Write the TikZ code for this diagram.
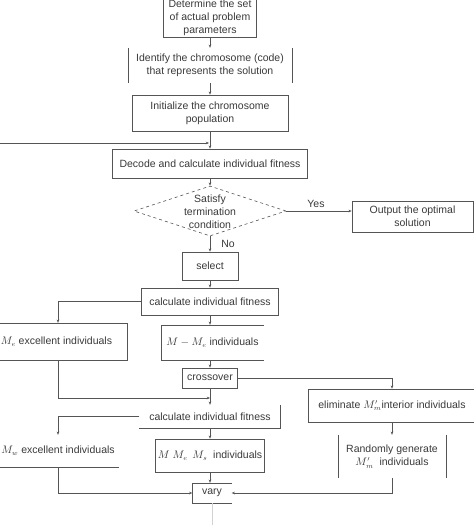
\documentclass[tikz,border=0pt]{standalone}
\usepackage{fontspec}
\setmainfont{Liberation Sans}
\usetikzlibrary{arrows.meta,shapes.geometric,calc}
\definecolor{ln}{HTML}{555555}
\definecolor{tx}{HTML}{3A3A3A}
\begin{document}
\begin{tikzpicture}[x=1pt,y=-1pt,
  txt/.style={text=tx,font=\fontsize{10.5pt}{13pt}\selectfont,align=center,inner sep=0pt},
  bx/.style={txt,minimum width=#1},
  lnst/.style={draw=ln,line width=0.6pt},
  arr/.style={lnst,-{Stealth[length=3.2pt,width=2.6pt]}},
  fullbox/.style={draw=ln,line width=0.6pt}]
\useasboundingbox (0,0) rectangle (474,525);
\clip (0,0) rectangle (474,525);
\fill[white] (0,0) rectangle (474,525);
% main column nodes
\node[bx=93pt,minimum height=43pt] (det) at (210,15.5) {};
\node[txt] (dett) at (210,18) {Determine the set\\of actual problem\\parameters};
\node[bx=164pt,minimum height=35pt] (ident) at (210,65.5) {Identify the chromosome (code)\\that represents the solution};
\node[bx=156pt,minimum height=36pt,fullbox] (init) at (210,113) {Initialize the chromosome\\population};
\node[bx=195pt,minimum height=29pt,fullbox] (decode) at (210,163.5) {Decode and calculate individual fitness};
\node[diamond,draw=ln,line width=0.6pt,dashed,minimum width=152pt,minimum height=50pt,inner sep=0pt] (dia) at (210,211) {};
\node[txt] (diat) at (210,212) {Satisfy\\termination\\condition};
\node[bx=121pt,minimum height=31pt,fullbox] (out) at (412.5,216.5) {Output the optimal\\solution};
\node[bx=56pt,minimum height=28pt,fullbox] (sel) at (210,266) {select};
\node[bx=137pt,minimum height=27pt,fullbox] (calc1) at (210,301.5) {calculate individual fitness};
\node[bx=141pt,minimum height=37pt] (Me) at (56.5,341.5) {$M_e$ excellent individuals};
\node[bx=103pt,minimum height=35pt] (MMe) at (212.5,342.5) {$M-M_e$ individuals};
\node[bx=55pt,minimum height=20pt,fullbox] (cross) at (210,378) {crossover};
\node[bx=167pt,minimum height=33pt,fullbox] (elim) at (392,405.5) {eliminate $M'_m$interior individuals};
\node[bx=141pt,minimum height=23pt] (calc2) at (210,416.5) {calculate individual fitness};
\node[bx=122pt,minimum height=32pt] (Mw) at (58,451) {$M_w$ excellent individuals};
\node[bx=109pt,minimum height=33pt,fullbox] (MMs) at (210,455.5) {$M\;M_e\;\,M_s$\; individuals};
\node[bx=108pt,minimum height=43pt] (rand) at (392,456.5) {Randomly generate\\$M'_m$\; individuals};
\node[bx=39pt,minimum height=20pt] (vary) at (212,493) {vary};
\node[txt] (yes) at (316,204) {Yes};
\node[txt] (no) at (228,244) {No};
% partial box sides
\draw[lnst] (det.north west) -- (det.south west) -- (det.south east) -- (det.north east);
\draw[lnst] (ident.north west) -- (ident.south west);
\draw[lnst] (ident.north east) -- (ident.south east);
\draw[lnst] (Me.north west) -- (Me.north east) -- (Me.south east) -- (Me.south west);
\draw[lnst] (MMe.north east) -- (MMe.north west) -- (MMe.south west) -- (MMe.south east);
\draw[lnst] (calc2.north east) -- (calc2.south east) -- (calc2.south west);
\draw[lnst] (Mw.south west) -- (Mw.south east);
\draw[lnst] (rand.north west) -- (rand.south west);
\draw[lnst] (rand.north east) -- (rand.south east);
\draw[lnst] (vary.north east) -- (vary.north west) -- (vary.south west) -- (vary.south east);
% coordinates
\coordinate (L) at (58,0);
\coordinate (fb) at (0,143);
\coordinate (J) at (210,398);
\coordinate (bot) at (212,525);
% connectors
\draw[arr] (det.south) -- (ident.north);
\draw[arr] (ident.south) -- (init.north);
\draw[arr] (init.south) -- (decode.north);
\draw[arr] (fb) -- ($(fb -| decode.north)+(-1,0)$);
\draw[arr] (decode.south) -- (dia.north);
\draw[arr] (dia.east) -- (dia.east -| out.west);
\draw[arr] (dia.south) -- (sel.north);
\draw[arr] (sel.south) -- (calc1.north);
\draw[arr] (calc1.west) -| (L |- Me.north);
\draw[arr] (calc1.south) -- (calc1.south |- MMe.north);
\draw[arr] (MMe.south -| cross.north) -- (cross.north);
\draw[arr] (cross.east) -| (elim.north);
\draw[arr] (L |- Me.south) |- (J);
\draw[arr] (cross.south) -- (calc2.north);
\draw[arr] (calc2.west) -| (L |- Mw.north);
\draw[arr] (calc2.south) -- (MMs.north);
\draw[arr] (elim.south) -- (rand.north);
\draw[arr] (MMs.south) -- (MMs.south |- vary.north);
\draw[arr] (L |- Mw.south) |- (vary.west);
\draw[arr] (rand.south) |- (vary.east);
\draw[draw=gray!35,line width=0.6pt] (vary.south) -- (bot);
\end{tikzpicture}
\end{document}
